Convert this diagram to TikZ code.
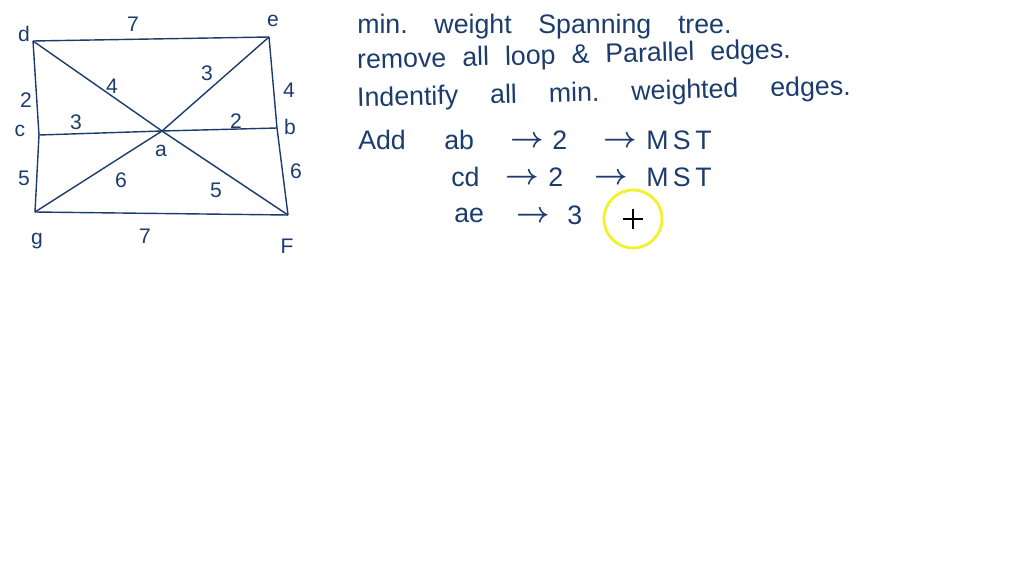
\documentclass[tikz,border=0pt]{standalone}
\usepackage{fontspec}
\setmainfont{Liberation Sans}
\usepackage{xcolor}
\usepackage{tikz}
\usetikzlibrary{calc}
\usetikzlibrary{arrows.meta}
\usetikzlibrary{positioning}
\definecolor{ink}{HTML}{1D3C6E}
\definecolor{hilite}{HTML}{F2F22A}
\tikzset{>=latex}
\tikzstyle{edge} = [-, draw = ink, line width = 1pt]
\tikzstyle{vlbl} = [draw=none, inner sep = 1, text = ink, font = \fontsize{15}{18}\selectfont]
\tikzstyle{wt} = [draw=none, inner sep = 1, text = ink, font = \fontsize{15}{18}\selectfont]
\tikzstyle{note} = [draw=none, inner sep = 0, anchor = west, text = ink, font = \fontsize{19}{22}\selectfont]
\tikzstyle{arr} = [note, font = \fontsize{21}{22}\selectfont\boldmath]

\begin{document}
\begin{tikzpicture}[x=0.025cm, y=-0.025cm]
\useasboundingbox [fill=white] (0, 0) rectangle (1024, 566);
% vertices
\coordinate (d) at (33, 41);
\coordinate (e) at (269, 37);
\coordinate (c) at (39, 135);
\coordinate (b) at (277, 128);
\coordinate (a) at (162, 131);
\coordinate (g) at (35, 212);
\coordinate (f) at (288, 215);
\node [vlbl] (dl) at (24, 34) {d};
\node [vlbl] (el) at (273, 21) {e};
\node [vlbl] (cl) at (20, 131) {c};
\node [vlbl] (bl) at (290, 127) {b};
\node [vlbl] (al) at (161, 151) {a};
\node [vlbl] (gl) at (37, 241) {g};
\node [vlbl] (fl) at (287, 246) {F};
% edges
\draw [edge] (d) to (e);
\draw [edge] (d) to (c);
\draw [edge] (c) to (g);
\draw [edge] (e) to (b);
\draw [edge] (b) to (f);
\draw [edge] (g) to (f);
\draw [edge] (c) to (a);
\draw [edge] (a) to (b);
\draw [edge] (d) to (a);
\draw [edge] (a) to (f);
\draw [edge] (e) to (a);
\draw [edge] (a) to (g);
% weights
\node [wt] (wde) at (133, 24) {7};
\node [wt] (wdc) at (26, 100) {2};
\node [wt] (wcg) at (24, 178) {5};
\node [wt] (web) at (289, 90) {4};
\node [wt] (wbf) at (296, 171) {6};
\node [wt] (wgf) at (145, 236) {7};
\node [wt] (wca) at (76, 122) {3};
\node [wt] (wab) at (236, 121) {2};
\node [wt] (wda) at (112, 86) {4};
\node [wt] (wea) at (207, 73) {3};
\node [wt] (wag) at (121, 180) {6};
\node [wt] (waf) at (216, 190) {5};
% notes
\node [note] (t1) at (357, 27) {min.\hspace{1em}weight\hspace{1em}Spanning\hspace{1em}tree.};
\node [note, rotate=1.4] (t2) at (357, 62) {remove\hspace{0.6em}all\hspace{0.6em}loop\hspace{0.6em}\&\hspace{0.6em}Parallel\hspace{0.6em}edges.};
\node [note, rotate=1.4] (t3) at (357, 100) {Indentify\hspace{1.2em}all\hspace{1.2em}min.\hspace{1.2em}weighted\hspace{1.2em}edges.};
\node [note] (add) at (358, 140) {Add};
\node [note] (ab) at (444, 140) {ab};
\node [arr] (ab1) at (510, 142) {$\rightarrow$};
\node [note] (ab2) at (552, 140) {2};
\node [arr] (ab3) at (603, 142) {$\rightarrow$};
\node [note] (ab4) at (646, 140) {M\,S\,T};
\node [note] (cd) at (451, 177) {cd};
\node [arr] (cd1) at (505, 179) {$\rightarrow$};
\node [note] (cd2) at (548, 177) {2};
\node [arr] (cd3) at (594, 179) {$\rightarrow$};
\node [note] (cd4) at (646, 177) {M\,S\,T};
\node [note] (ae) at (454, 215) {ae};
\node [arr] (ae1) at (516, 217) {$\rightarrow$};
\node [note] (ae2) at (567, 215) {3};
% cursor
\node [circle, draw = hilite, line width = 2pt, minimum size = 58*0.025cm, inner sep = 0] (pen) at (633, 219) {};
\draw [black, line width = 1pt] (pen.center) ++(-10, 0) -- ++(20, 0);
\draw [black, line width = 1pt] (pen.center) ++(0, -10) -- ++(0, 20);
\end{tikzpicture}
\end{document}
